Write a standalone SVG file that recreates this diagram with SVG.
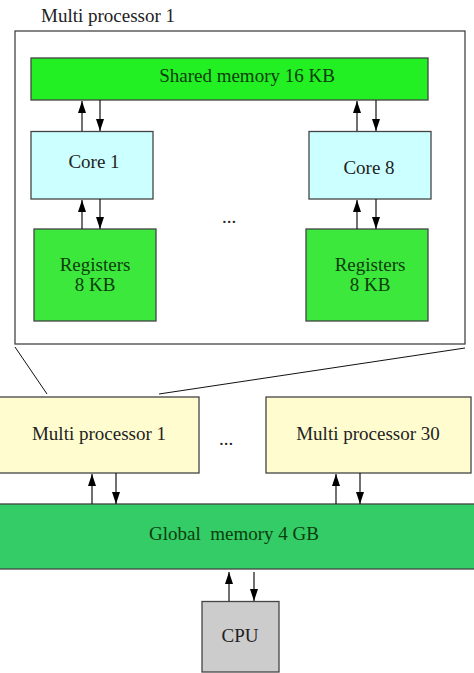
<svg xmlns="http://www.w3.org/2000/svg" width="474" height="673" viewBox="0 0 474 673">
<style>
  text { font-family: "Liberation Serif", "Times New Roman", serif; font-size: 19px; fill: #222; text-anchor: middle; }
  .dg { fill: #0d3d0d; }
  .box { stroke: #444; stroke-width: 1.3; }
  .conn line { stroke: #111; stroke-width: 1.2; }
</style>
<defs>
  <marker id="ah" viewBox="0 0 12 8" refX="12" refY="4" markerWidth="12" markerHeight="8" markerUnits="userSpaceOnUse" orient="auto">
    <path d="M0,0 L12,4 L0,8 z" fill="#000"/>
  </marker>
</defs>
<rect width="474" height="673" fill="#fff"/>

<g id="mp1-detail">
  <text x="41" y="22" style="text-anchor:start">Multi processor 1</text>
  <rect class="box" x="15" y="31" width="450" height="313" fill="#fff"/>
</g>
<g id="shared">
  <rect class="box" x="31" y="58" width="397" height="42" fill="#22f022"/>
  <text class="dg" x="247" y="82">Shared memory 16 KB</text>
</g>
<g id="core1">
  <rect class="box" x="31" y="131.5" width="122" height="67.5" fill="#ccffff"/>
  <text x="94" y="168">Core 1</text>
</g>
<g id="core8">
  <rect class="box" x="309" y="131.5" width="122" height="67.5" fill="#ccffff"/>
  <text x="369" y="174">Core 8</text>
</g>
<g id="reg1">
  <rect class="box" x="34" y="229" width="122" height="92" fill="#3be83b"/>
  <text class="dg" x="95" y="271">Registers</text>
  <text class="dg" x="95" y="291">8 KB</text>
</g>
<g id="reg8">
  <rect class="box" x="306" y="229" width="122" height="92" fill="#3be83b"/>
  <text class="dg" x="370" y="271">Registers</text>
  <text class="dg" x="370" y="291">8 KB</text>
</g>
<g id="dots1"><text x="229" y="223">...</text></g>

<g id="mp1">
  <rect class="box" x="-2" y="397" width="201" height="76" fill="#fffdd0"/>
  <text x="99" y="440">Multi processor 1</text>
</g>
<g id="dots2"><text x="226" y="445">...</text></g>
<g id="mp30">
  <rect class="box" x="266" y="397" width="205" height="76" fill="#fffdd0"/>
  <text x="368" y="440">Multi processor 30</text>
</g>
<g id="global">
  <rect class="box" x="-2" y="504" width="478" height="65" fill="#33cc66"/>
  <text class="dg" x="234" y="540" xml:space="preserve">Global  memory 4 GB</text>
</g>
<g id="cpu">
  <rect class="box" x="202" y="601.5" width="77" height="70.5" fill="#cccccc"/>
  <text x="240" y="642">CPU</text>
</g>

<g class="conn" id="connectors">
  <line x1="15" y1="347" x2="47" y2="394" style="stroke-width:1"/>
  <line x1="465" y1="348" x2="159" y2="394" style="stroke-width:1"/>
  <line x1="82" y1="131" x2="82" y2="101" marker-end="url(#ah)"/>
  <line x1="100" y1="100" x2="100" y2="131" marker-end="url(#ah)"/>
  <line x1="357" y1="131" x2="357" y2="101" marker-end="url(#ah)"/>
  <line x1="376" y1="100" x2="376" y2="131" marker-end="url(#ah)"/>
  <line x1="82" y1="229" x2="82" y2="200" marker-end="url(#ah)"/>
  <line x1="100" y1="199" x2="100" y2="229" marker-end="url(#ah)"/>
  <line x1="357" y1="229" x2="357" y2="200" marker-end="url(#ah)"/>
  <line x1="376" y1="199" x2="376" y2="229" marker-end="url(#ah)"/>
  <line x1="92" y1="504" x2="92" y2="474" marker-end="url(#ah)"/>
  <line x1="116" y1="473" x2="116" y2="504" marker-end="url(#ah)"/>
  <line x1="336" y1="504" x2="336" y2="474" marker-end="url(#ah)"/>
  <line x1="360" y1="473" x2="360" y2="504" marker-end="url(#ah)"/>
  <line x1="229" y1="601" x2="229" y2="572" marker-end="url(#ah)"/>
  <line x1="254" y1="572" x2="254" y2="601" marker-end="url(#ah)"/>
</g>
</svg>
